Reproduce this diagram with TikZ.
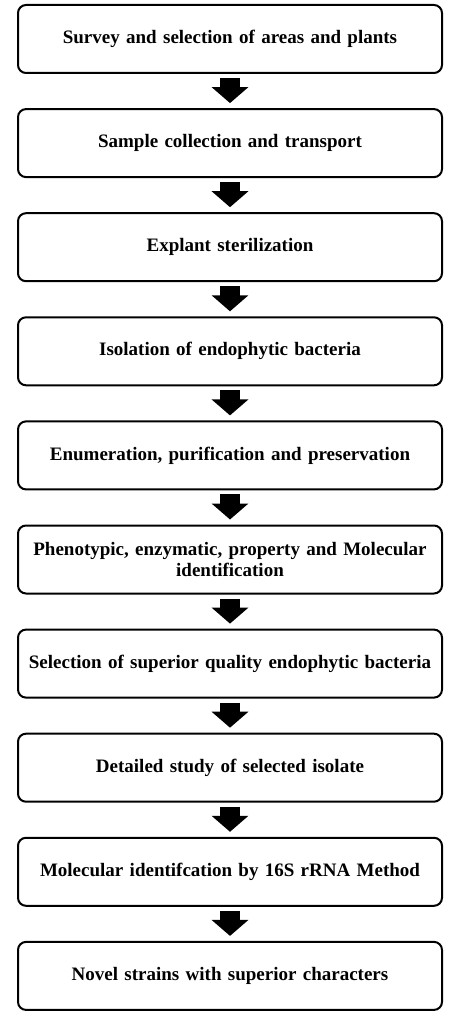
\documentclass[tikz,border=0pt]{standalone}
\usepackage{fontspec}
\setmainfont{Liberation Serif}
\usepackage{tikz}
\usetikzlibrary{arrows.meta}

\begin{document}
\begin{tikzpicture}[x=1pt, y=1pt,
  stepbox/.style={draw=black, fill=white, line width=2pt, rounded corners=8pt,
    minimum width=424pt, minimum height=68pt, inner xsep=2pt, text width=418pt,
    align=center, font=\fontsize{19}{20.5}\selectfont\bfseries},
  flowarrow/.style={line width=20pt, -{Triangle[width=36pt,length=16pt]},
    shorten <=4pt, shorten >=5pt}]
\useasboundingbox (0,0) rectangle (456,-1024);
\node[stepbox] (s1) at (230,-39) {Survey and selection of areas and plants};
\node[stepbox] (s2) at (230,-143.1) {Sample collection and transport};
\node[stepbox] (s3) at (230,-247.2) {Explant sterilization};
\node[stepbox] (s4) at (230,-351.3) {Isolation of endophytic bacteria};
\node[stepbox] (s5) at (230,-455.4) {Enumeration, purification and preservation};
\node[stepbox] (s6) at (230,-559.5) {Phenotypic, enzymatic, property and Molecular\\identification};
\node[stepbox] (s7) at (230,-663.6) {Selection of superior quality endophytic bacteria};
\node[stepbox] (s8) at (230,-767.7) {Detailed study of selected isolate};
\node[stepbox] (s9) at (230,-871.8) {Molecular identifcation by 16S rRNA Method};
\node[stepbox] (s10) at (230,-975.9) {Novel strains with superior characters};
\draw[flowarrow] (s1.south) -- (s2.north);
\draw[flowarrow] (s2.south) -- (s3.north);
\draw[flowarrow] (s3.south) -- (s4.north);
\draw[flowarrow] (s4.south) -- (s5.north);
\draw[flowarrow] (s5.south) -- (s6.north);
\draw[flowarrow] (s6.south) -- (s7.north);
\draw[flowarrow] (s7.south) -- (s8.north);
\draw[flowarrow] (s8.south) -- (s9.north);
\draw[flowarrow] (s9.south) -- (s10.north);
\end{tikzpicture}
\end{document}
